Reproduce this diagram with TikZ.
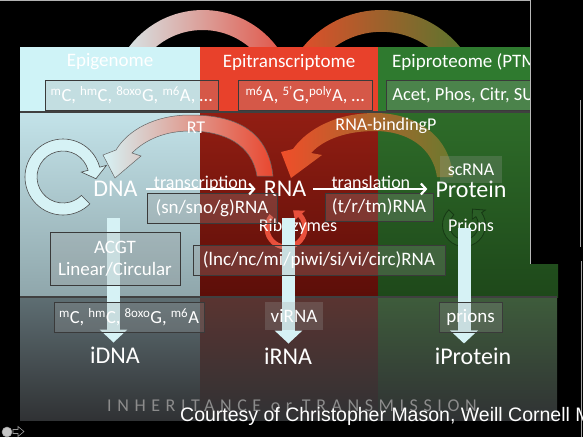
\documentclass[tikz,border=0pt]{standalone}
\usepackage{fontspec}
\setmainfont{Carlito}
\newfontfamily\creditfont{Liberation Sans}
\usetikzlibrary{arrows.meta}

\definecolor{hdrblue}{HTML}{CFF3F7}
\definecolor{hdrred}{HTML}{E8412B}
\definecolor{hdrgreen}{HTML}{2F7A2F}
\definecolor{mainblueT}{HTML}{C3E3E9}
\definecolor{mainblueB}{HTML}{8FA6AB}
\definecolor{mainredT}{HTML}{921E13}
\definecolor{mainredB}{HTML}{5C0E08}
\definecolor{maingreenT}{HTML}{2E6C29}
\definecolor{maingreenB}{HTML}{1E481A}
\definecolor{lowblue}{HTML}{5E6E73}
\definecolor{lowred}{HTML}{5A3431}
\definecolor{lowgreen}{HTML}{3E5C3B}
\definecolor{lowbottom}{HTML}{303234}
\definecolor{boxline}{HTML}{3A3A3A}
\definecolor{boxfill}{HTML}{A0A0A0}
\definecolor{paleblue}{HTML}{D6F2F5}
\definecolor{arcpink}{HTML}{EDD3D3}
\definecolor{arcred}{HTML}{E14A3B}
\definecolor{arcorange}{HTML}{EE4A2A}
\definecolor{arcbrown}{HTML}{A8652A}
\definecolor{arcgreen}{HTML}{4A7A2E}
\definecolor{rtpink}{HTML}{F3DCDC}
\definecolor{rtred}{HTML}{E9472F}
\definecolor{rbpred}{HTML}{F04E2A}
\definecolor{rbpmid}{HTML}{C4652A}
\definecolor{rbpolive}{HTML}{6B7A2E}
\definecolor{ringred}{HTML}{E8503C}
\definecolor{ringgreen}{HTML}{2A5E26}
\definecolor{ringdark}{HTML}{163814}
\definecolor{inhgray}{HTML}{8C8C8C}

\tikzset{
  hdrtitle/.style={text=white, font=\fontsize{19}{21}\selectfont, inner sep=0pt},
  molecule/.style={text=white, font=\fontsize{24}{27}\selectfont, inner sep=0pt},
  lbl/.style={text=white, font=\fontsize{18}{20}\selectfont, inner sep=0pt},
  modbox/.style={draw=boxline, line width=0.6pt, fill=boxfill, fill opacity=0.25,
    text opacity=1, text=white, font=\fontsize{19}{22.5}\selectfont, inner sep=0pt},
  softbox/.style={modbox, draw=none},
  flow/.style={white, line width=2.2pt, -{Straight Barb[length=5pt, width=11pt]}},
  downbar/.style={paleblue, line width=13pt, -{Triangle[width=27pt, length=13pt]}},
  sepline/.style={draw=black!75, line width=1.2pt},
}

\begin{document}
\begin{tikzpicture}[x=1pt, y=-1pt]
  \useasboundingbox (0,0) rectangle (583,437);
  \fill[black] (0,0) rectangle (583,437);
  \draw[gray!60, line width=1pt] (0,0.5) -- (530,0.5);
  % Arcos
  \shade[left color=paleblue, middle color=arcpink, right color=arcred]
    (110.5,102.5) arc[start angle=180, end angle=360, radius=92.5]
    -- (275,102.5) arc[start angle=360, end angle=180, radius=72.5] -- cycle;
  \shade[left color=arcorange, middle color=arcbrown, right color=arcgreen]
    (279.7,111.8) arc[start angle=180, end angle=360, radius=101.8]
    -- (461.5,111.8) arc[start angle=360, end angle=180, radius=80] -- cycle;
  % Faixas
  \fill[hdrblue]  (20,47) rectangle (200,112);
  \fill[hdrred]   (200,47) rectangle (378,112);
  \fill[hdrgreen] (378,47) rectangle (558,112);
  \shade[top color=mainblueT, bottom color=mainblueB]   (20,112) rectangle (200,297);
  \shade[top color=mainredT, bottom color=mainredB]     (200,112) rectangle (378,297);
  \shade[top color=maingreenT, bottom color=maingreenB] (378,112) rectangle (558,297);
  \shade[top color=lowblue, bottom color=lowbottom]  (20,297) rectangle (200,420);
  \shade[top color=lowred, bottom color=lowbottom]   (200,297) rectangle (378,420);
  \shade[top color=lowgreen, bottom color=lowbottom] (378,297) rectangle (557,420);
  \draw[sepline] (20,112) -- (558,112);
  \draw[sepline] (20,297) -- (557,297);
  % Cabecalho
  \node[hdrtitle] (epig) at (110,62) {Epigenome};
  \node[hdrtitle] (epit) at (289,62) {Epitranscriptome};
  \node[hdrtitle, anchor=west] (epip) at (392,62) {Epiproteome (PTM};
  \node[modbox, minimum width=173pt, minimum height=30pt, font=\fontsize{18.5}{22}\selectfont] (epigbox) at (131.5,95)
    {\textsuperscript{m}C, \textsuperscript{hm}C, \textsuperscript{8oxo}G, \textsuperscript{m6}A, …};
  \node[modbox, minimum width=134pt, minimum height=30pt, font=\fontsize{18.5}{22}\selectfont] (epitbox) at (305,95)
    {\textsuperscript{m6}A, \textsuperscript{5’}G,\textsuperscript{poly}A, …};
  \node[modbox, minimum height=30pt, inner xsep=6pt, anchor=west, font=\fontsize{18.5}{22}\selectfont] (epipbox) at (386,95)
    {Acet, Phos, Citr, SU};
  % Setas curvas
  \draw[left color=paleblue, middle color=rtpink, right color=rtred, draw=black!60, line width=0.5pt]
    (273,176) .. controls (268,130) and (235,115) .. (190,115)
    .. controls (155,115) and (128,130) .. (116,150) -- (103,155) -- (115,178)
    -- (141,156) -- (132,153) .. controls (146,139) and (166,131) .. (190,131)
    .. controls (225,131) and (252,145) .. (257,176) -- cycle;
  \shade[left color=rbpred, middle color=rbpmid, right color=rbpolive]
    (453,177) .. controls (450,135) and (415,113) .. (375,113)
    .. controls (338,113) and (308,128) .. (293,149) -- (281,152) -- (291,178)
    -- (322,155) -- (311,153) .. controls (324,139) and (347,131) .. (375,131)
    .. controls (408,131) and (433,148) .. (437,177) -- cycle;
  \node[lbl] (rtlbl) at (196,128) {RT};
  \node[lbl] (rbplbl) at (386,126) {RNA-bindingP};
  \filldraw[fill=paleblue, draw=black!70, line width=0.6pt]
    ([shift={(63,177)}]45:38) arc[start angle=45, end angle=345, radius=38]
    -- ([shift={(63,177)}]345:45) -- ([shift={(63,177)}]3:33)
    -- ([shift={(63,177)}]345:19) -- ([shift={(63,177)}]345:26)
    arc[start angle=345, end angle=45, radius=26] -- cycle;
  \fill[ringred]
    ([shift={(286,228)}]220:21.5) arc[start angle=220, end angle=-42, radius=21.5]
    -- ([shift={(286,228)}]-42:26) -- ([shift={(286,228)}]-68:19)
    -- ([shift={(286,228)}]-42:12) -- ([shift={(286,228)}]-42:16.5)
    arc[start angle=-42, end angle=220, radius=16.5] -- cycle;
  \filldraw[fill=ringgreen, draw=ringdark, line width=0.8pt]
    ([shift={(464,225)}]225:21.5) arc[start angle=225, end angle=-35, radius=21.5]
    -- ([shift={(464,225)}]-35:26) -- ([shift={(464,225)}]-62:18)
    -- ([shift={(464,225)}]-35:10) -- ([shift={(464,225)}]-35:14.5)
    arc[start angle=-35, end angle=225, radius=14.5] -- cycle;
  % Moleculas
  \node[molecule] (dna) at (115.5,189) {DNA};
  \node[molecule] (rna) at (285,189) {RNA};
  \node[molecule] (protein) at (471,189) {Protein};
  \node[molecule] (idna) at (115,355) {iDNA};
  \node[molecule] (irna) at (288,356) {iRNA};
  \node[molecule] (iprotein) at (473,356) {iProtein};
  \node[lbl] (ribo) at (298,227) {Ribozymes};
  \node[lbl] (prionlbl) at (471,225) {Prions};
  % Heranca
  \draw[downbar, shorten <=21pt, shorten >=4pt] ([xshift=-2pt]dna.south) -- ([xshift=-1.5pt]idna.north);
  \draw[downbar, shorten <=21pt, shorten >=4pt] ([xshift=3.5pt]rna.south) -- ([xshift=0.5pt]irna.north);
  \draw[downbar, shorten <=30pt, shorten >=4pt] ([xshift=-7pt]protein.south) -- ([xshift=-9pt]iprotein.north);
  % Caixas
  \node[modbox, minimum width=130pt, minimum height=30pt] (smallrna) at (212,208) {(sn/sno/g)RNA};
  \node[modbox, minimum width=108pt, minimum height=28pt] (trna) at (379,207) {(t/r/tm)RNA};
  \node[modbox, minimum width=252pt, minimum height=30pt] (ncrna) at (319,260.5) {(lnc/nc/mi/piwi/si/vi/circ)RNA};
  \node[modbox, minimum width=130pt, minimum height=53pt, align=center] (acgt) at (115,258.5) {ACGT\\Linear/Circular};
  \node[softbox, minimum width=62pt, minimum height=27pt, font=\fontsize{18}{20}\selectfont] (scrna) at (471,169.5) {scRNA};
  \node[modbox, minimum width=150pt, minimum height=30pt, font=\fontsize{18.5}{22}\selectfont] (dmod) at (129,317)
    {\textsuperscript{m}C, \textsuperscript{hm}C, \textsuperscript{8oxo}G, \textsuperscript{m6}A};
  \node[softbox, minimum width=58pt, minimum height=28pt] (virna) at (294,316) {viRNA};
  \node[modbox, minimum width=63pt, minimum height=30pt] (prionbox) at (470.5,317) {prions};
  % Fluxo
  \draw[flow, shorten <=8.5pt, shorten >=8pt] (dna) -- node[lbl, anchor=base, yshift=1pt] {transcription} (rna);
  \draw[flow, shorten <=7pt, shorten >=8pt] (rna) -- node[lbl, anchor=base, yshift=1pt] {translation} (protein);
  % Moldura
  \fill[black] (530,0) rectangle (583,264);
  \draw[gray!55, line width=0.8pt] (530.5,0) -- (530.5,264);
  \draw[gray!70, line width=0.8pt] (580.5,100) -- (580.5,247);
  \draw[gray!70, line width=0.8pt] (581,261) -- (581,437);
  \node[anchor=base west, text=inhgray, inner sep=0pt,
    font=\fontsize{18}{20}\selectfont\addfontfeature{LetterSpace=31}] (inherit) at (107,411)
    {INHERITANCE or TRANSMISSION};
  \node[anchor=base west, text=white, inner sep=0pt,
    font=\creditfont\fontsize{19.5}{22}\selectfont] (credit) at (180,421)
    {Courtesy of Christopher Mason, Weill Cornell M};
  \filldraw[fill=gray!45, draw=gray!80, line width=0.5pt] (7,432) circle (5);
  \draw[gray!80, line width=0.6pt] (13,429.5) -- (18,429.5) -- (18,426.5) -- (24,431.5)
    -- (18,436.5) -- (18,433.5) -- (13,433.5) -- cycle;
\end{tikzpicture}
\end{document}
